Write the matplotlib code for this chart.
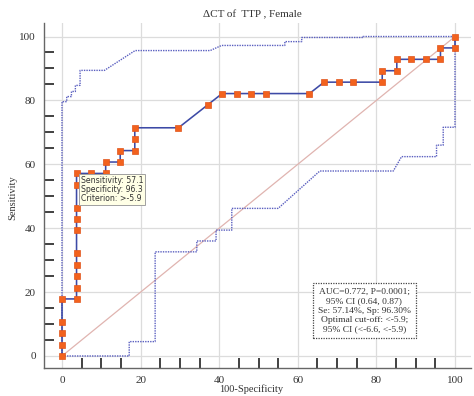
import matplotlib
matplotlib.use("Agg")
import matplotlib.pyplot as plt
from matplotlib.ticker import MultipleLocator

# ROC curve points (100-Specificity, Sensitivity)
roc_x = [0, 0, 0, 0, 0, 3.70, 3.70, 3.70, 3.70, 3.70, 3.70, 3.70, 3.70, 3.70, 3.70,
         7.41, 11.11, 11.11, 14.81, 14.81, 18.52, 18.52, 18.52, 29.63, 37.04, 40.74,
         44.44, 48.15, 51.85, 62.96, 66.67, 70.37, 74.07, 81.48, 81.48, 85.19, 85.19,
         88.89, 92.59, 96.30, 96.30, 100, 100]
roc_y = [0, 3.57, 7.14, 10.71, 17.86, 17.86, 21.43, 25.00, 28.57, 32.14, 39.29, 42.86,
         46.43, 53.57, 57.14, 57.14, 57.14, 60.71, 60.71, 64.29, 64.29, 67.86, 71.43,
         71.43, 78.57, 82.14, 82.14, 82.14, 82.14, 82.14, 85.71, 85.71, 85.71, 85.71,
         89.29, 89.29, 92.86, 92.86, 92.86, 92.86, 96.43, 96.43, 100]

# Upper 95% confidence bound
upper_x = [0, 0, 1.2, 1.2, 2.4, 2.4, 3.4, 3.4, 4.6, 4.6, 10.8, 18.6, 37.7, 40.6,
           56.7, 56.7, 61.0, 61.0, 76.6, 76.6, 100]
upper_y = [0, 79.6, 79.6, 81.2, 81.2, 82.8, 82.8, 84.7, 84.7, 89.4, 89.4, 95.6, 95.6,
           97.2, 97.2, 98.4, 98.4, 99.7, 99.7, 100, 100]

# Lower 95% confidence bound
lower_x = [0, 17.1, 17.1, 23.7, 23.7, 34.3, 34.3, 39.2, 39.2, 43.2, 43.2, 55.0, 65.6,
           84.3, 86.4, 95.3, 95.3, 97.0, 97.0, 100, 100]
lower_y = [0, 0, 4.5, 4.5, 32.6, 32.6, 36.0, 36.0, 39.4, 39.4, 46.2, 46.2, 57.9,
           57.9, 62.4, 62.4, 66.0, 66.0, 71.6, 71.6, 100]

diag = [0, 100]

title = "\u0394CT of  TTP , Female"
xlabel = "100-Specificity"
ylabel = "Sensitivity"
tooltip = "Sensitivity: 57.1\nSpecificity: 96.3\nCriterion: >-5.9"
stats = ("AUC=0.772, P=0.0001;\n95% CI (0.64, 0.87)\nSe: 57.14%, Sp: 96.30%\n"
         "Optimal cut-off: <-5.9;\n95% CI (<-6.6, <-5.9)")
cut_point = (3.70, 57.14)

serif = ["Liberation Serif", "DejaVu Serif"]

fig = plt.figure(figsize=(4.74, 3.96), dpi=100)
ax = fig.add_axes([0.0935, 0.0707, 0.8996, 0.871])
ax.set_xlim(-4.5, 104)
ax.set_ylim(-3.76, 104.2)

ax.grid(True, which="major", color="#dcdcdc", linewidth=0.9)
ax.set_axisbelow(True)

blue = "#3d4aa6"
ax.plot(diag, diag, color="#e0b4b0", linewidth=0.9, zorder=2)
ax.plot(upper_x, upper_y, color="#5a5fc0", linewidth=1.0, linestyle=(0, (1, 0.8)), zorder=3)
ax.plot(lower_x, lower_y, color="#5a5fc0", linewidth=1.0, linestyle=(0, (1, 0.8)), zorder=3)
ax.plot(roc_x, roc_y, color=blue, linewidth=1.15, marker="s", markersize=4.5,
        markerfacecolor="#f2621e", markeredgecolor="#e0541a", markeredgewidth=0.5, zorder=4)

for s in ["top", "right"]:
    ax.spines[s].set_visible(False)
for s in ["left", "bottom"]:
    ax.spines[s].set_color("#666666")
    ax.spines[s].set_linewidth(1.0)

ax.xaxis.set_major_locator(MultipleLocator(20))
ax.yaxis.set_major_locator(MultipleLocator(20))
ax.xaxis.set_minor_locator(MultipleLocator(5))
ax.yaxis.set_minor_locator(MultipleLocator(5))
ax.tick_params(which="major", length=0, pad=6, labelsize=8, labelcolor="#333333")
ax.tick_params(which="minor", direction="in", length=7, width=1.3, color="#333333")
for lab in ax.get_xticklabels() + ax.get_yticklabels():
    lab.set_fontfamily(serif)
ax.set_xticks([0, 20, 40, 60, 80, 100])
ax.set_yticks([0, 20, 40, 60, 80, 100])

fig.text(0.532, 0.962, title, ha="center", va="center", fontsize=8,
         family=serif, color="#333333")
fig.text(0.53, 0.018, xlabel, ha="center", va="center", fontsize=7.5,
         family=serif, color="#333333")
fig.text(0.027, 0.5, ylabel, ha="center", va="center", rotation=90, fontsize=7.5,
         family=serif, color="#333333")

ax.annotate(tooltip, xy=cut_point, xytext=(3, -2), textcoords="offset points",
            ha="left", va="top", fontsize=5.6, family=["DejaVu Sans"], color="#333333",
            linespacing=1.0,
            bbox=dict(boxstyle="square,pad=0.25", facecolor="#ffffe6",
                      edgecolor="#a0a0a0", linewidth=0.7), zorder=6)

ax.text(76.9, 14.2, stats, ha="center", va="center", fontsize=6.8, family=serif,
        color="#333333", linespacing=1.2, zorder=6,
        bbox=dict(boxstyle="square,pad=0.55", facecolor="white",
                  edgecolor="#444444", linewidth=0.9, linestyle=(0, (1, 1))))

fig.savefig("out.png", dpi=100)
